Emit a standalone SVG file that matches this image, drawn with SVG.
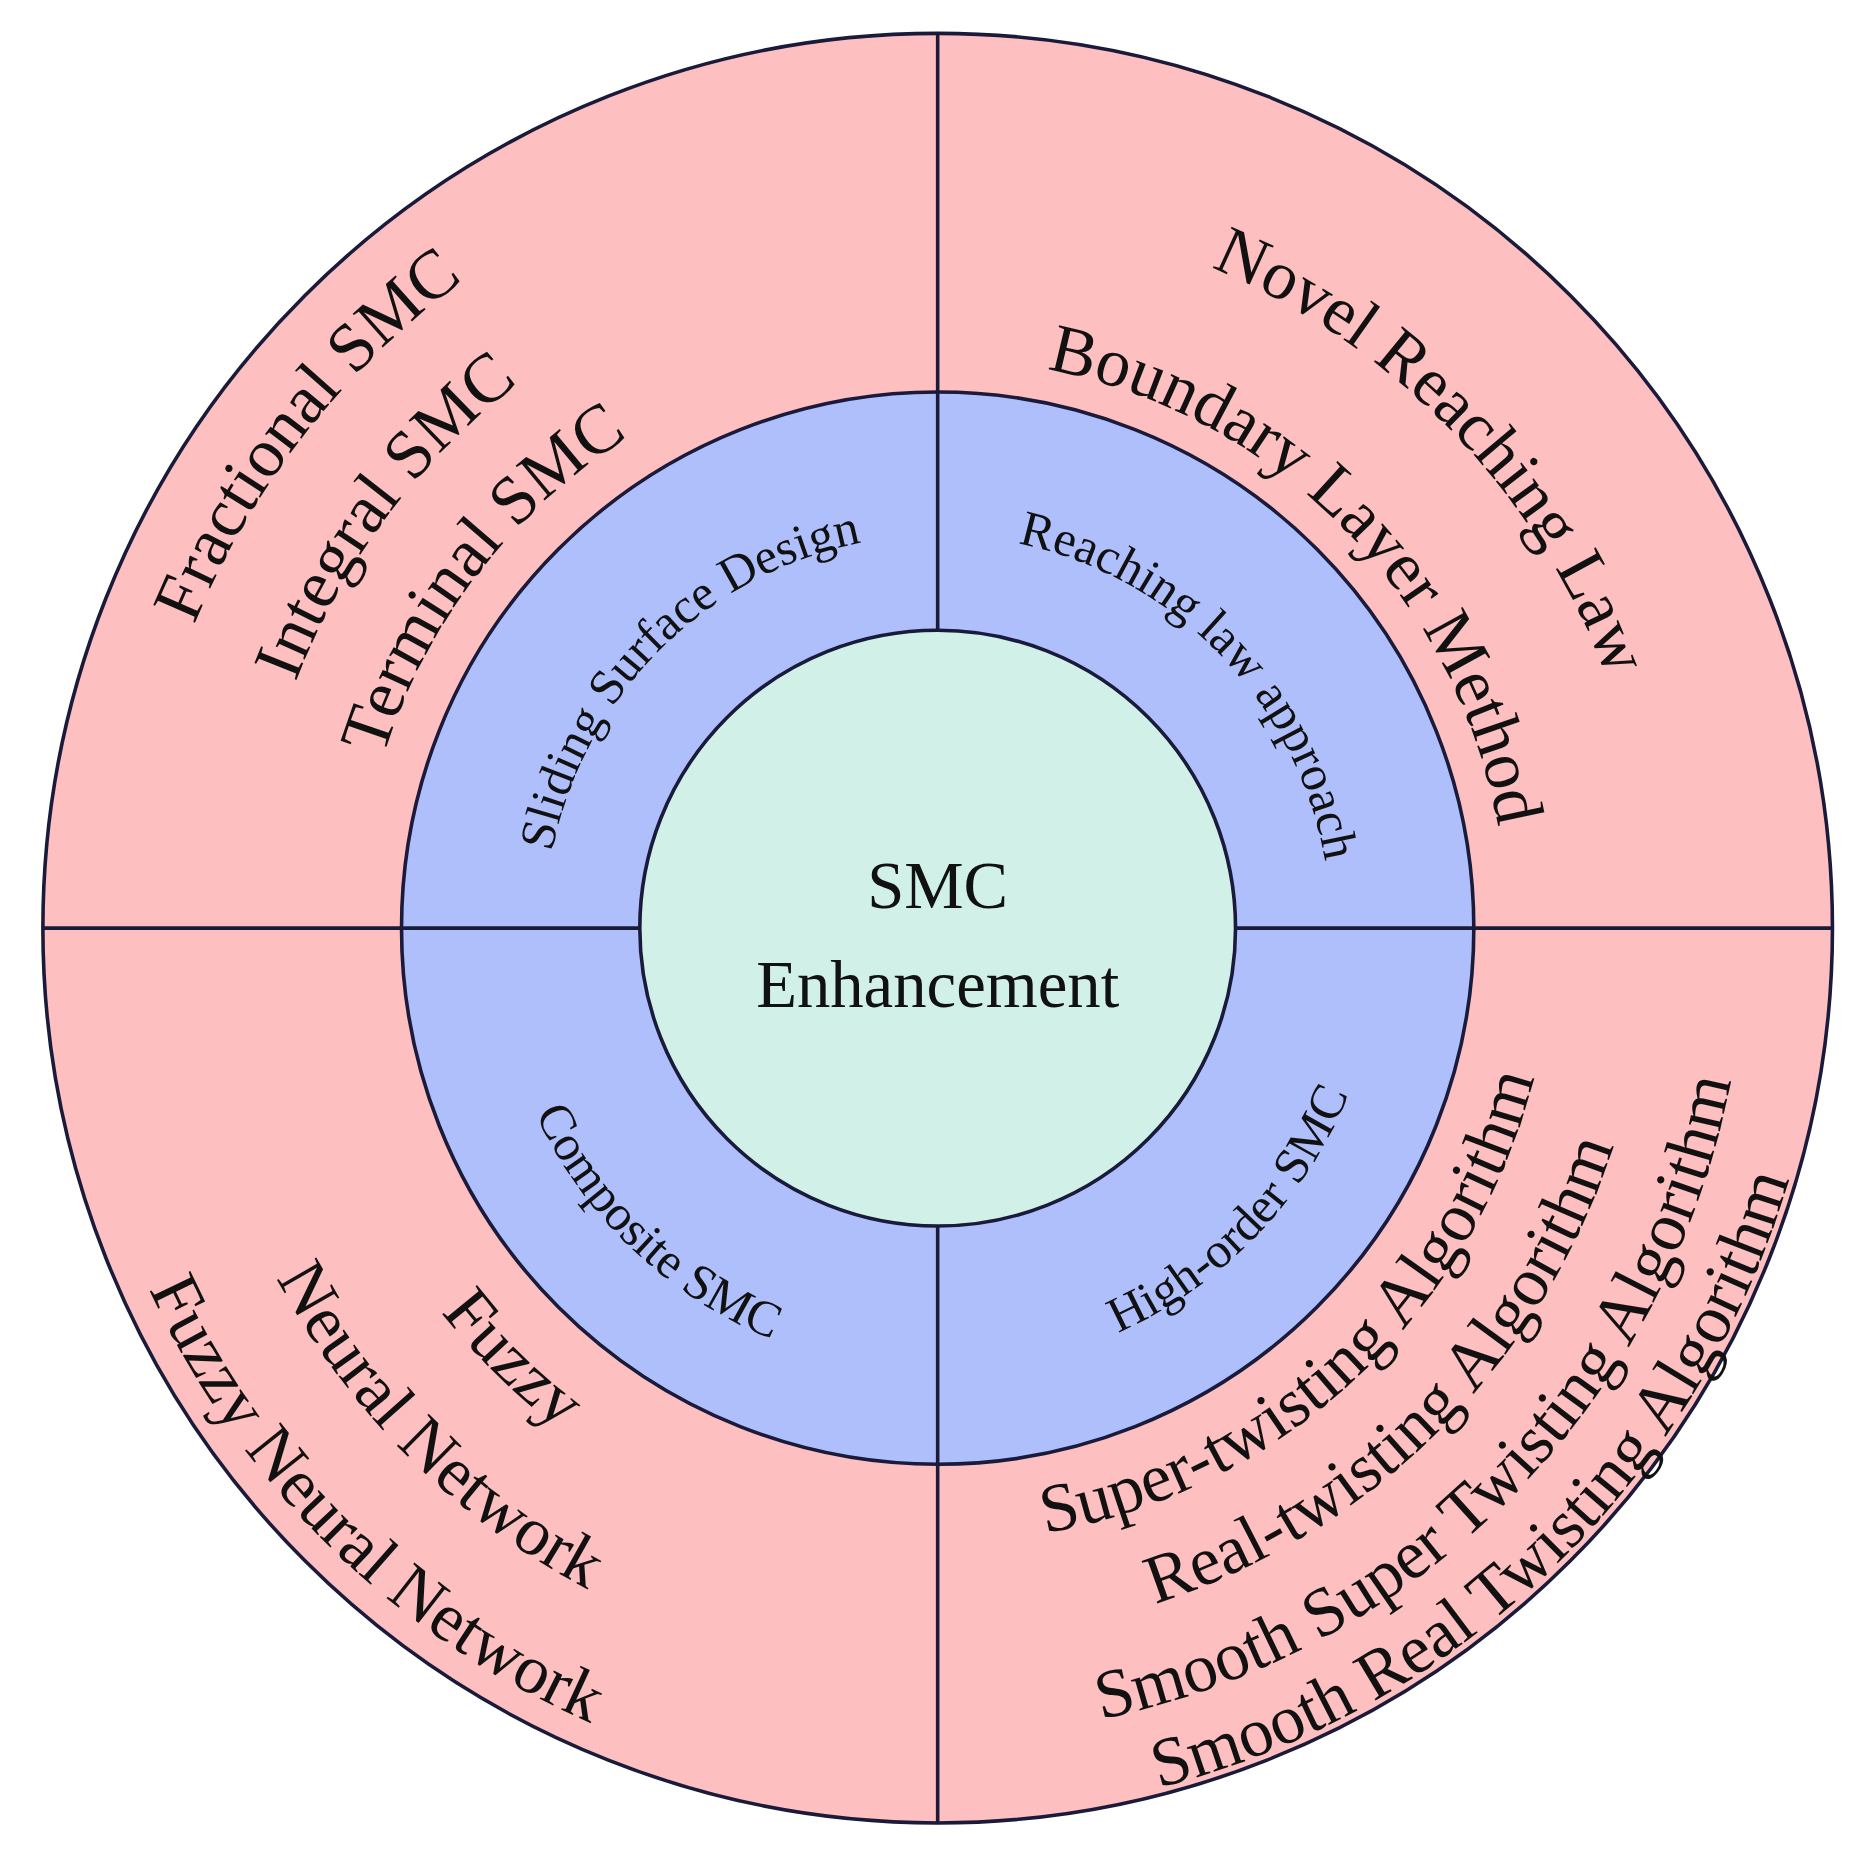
<svg xmlns="http://www.w3.org/2000/svg" xmlns:xlink="http://www.w3.org/1999/xlink" width="1867" height="1867" viewBox="0 0 1867 1867">
<style>
.ring{stroke:#1a1a3a;stroke-width:3}
.ln{stroke:#1a1a3a;stroke-width:3;fill:none}
text{font-family:"Liberation Serif","Times New Roman",serif;fill:#111}
.o{font-size:58px}
.m{font-size:42px}
.c{font-size:56px}
</style>
<defs>
<path id="cw674" d="M787,105 A674,674 0 0 1 787,1453"/>
<path id="cw577" d="M787,202 A577,577 0 0 1 787,1356"/>
<path id="cw487" d="M787,292 A487,487 0 0 1 787,1266"/>
<path id="cw330" d="M787,449 A330,330 0 0 1 787,1109"/>
<path id="cw600" d="M787,179 A600,600 0 0 1 787,1379"/>
<path id="cw478" d="M787,301 A478,478 0 0 1 787,1257"/>
<path id="ccw372" d="M787,1151 A372,372 0 0 0 787,407"/>
<path id="ccw527" d="M787,1306 A527,527 0 0 0 787,252"/>
<path id="ccw628" d="M787,1407 A628,628 0 0 0 787,151"/>
<path id="ccw728" d="M787,1507 A728,728 0 0 0 787,51"/>
<path id="ccw516" d="M787,1295 A516,516 0 0 0 787,263"/>
<path id="ccw596" d="M787,1375 A596,596 0 0 0 787,183"/>
<path id="ccw678" d="M787,1457 A678,678 0 0 0 787,101"/>
<path id="ccw745" d="M787,1524 A745,745 0 0 0 787,34"/>
</defs>
<rect width="1867" height="1867" fill="#fff"/>
<g transform="scale(1.19145)">
<g id="outer"><circle class="ring" cx="787" cy="779" r="751" fill="#fdbfbf"/></g>
<g id="middle"><circle class="ring" cx="787" cy="779" r="450" fill="#afbffc"/></g>
<g id="connectors">
<line class="ln" x1="787" y1="28" x2="787" y2="1530"/>
<line class="ln" x1="36" y1="779" x2="1538" y2="779"/>
</g>
<g id="center">
<circle class="ring" cx="787" cy="779" r="250" fill="#d0f0e8"/>
<text class="c" x="787" y="762" text-anchor="middle">SMC</text>
<text class="c" x="787" y="845" text-anchor="middle">Enhancement</text>
</g>
<g id="sliding"><text class="m" text-anchor="middle" transform="rotate(225 787 779)"><textPath xlink:href="#cw330" startOffset="50%">Sliding Surface Design</textPath></text></g>
<g id="reaching"><text class="m" text-anchor="middle" transform="rotate(-44 787 779)"><textPath xlink:href="#cw330" startOffset="50%">Reaching law approach</textPath></text></g>
<g id="composite"><text class="m" text-anchor="middle" transform="rotate(133.6 787 779)"><textPath xlink:href="#ccw372" startOffset="50%">Composite SMC</textPath></text></g>
<g id="highorder"><text class="m" text-anchor="middle" transform="rotate(44 787 779)"><textPath xlink:href="#ccw372" startOffset="50%">High-order SMC</textPath></text></g>
<g id="surface-items">
<text class="o" text-anchor="middle" transform="rotate(218 787 779)"><textPath xlink:href="#cw674" startOffset="50%">Fractional SMC</textPath></text>
<text class="o" text-anchor="middle" transform="rotate(216.7 787 779)"><textPath xlink:href="#cw577" startOffset="50%">Integral SMC</textPath></text>
<text class="o" text-anchor="middle" transform="rotate(217.5 787 779)"><textPath xlink:href="#cw487" startOffset="50%">Terminal SMC</textPath></text>
</g>
<g id="reaching-items">
<text class="o" text-anchor="middle" transform="rotate(-44 787 779)"><textPath xlink:href="#cw600" startOffset="50%">Novel Reaching Law</textPath></text>
<text class="o" text-anchor="middle" transform="rotate(-44.6 787 779)"><textPath xlink:href="#cw478" startOffset="50%">Boundary Layer Method</textPath></text>
</g>
<g id="composite-items">
<text class="o" text-anchor="middle" transform="rotate(134.6 787 779)"><textPath xlink:href="#ccw527" startOffset="50%">Fuzzy</textPath></text>
<text class="o" text-anchor="middle" transform="rotate(135 787 779)"><textPath xlink:href="#ccw628" startOffset="50%">Neural Network</textPath></text>
<text class="o" text-anchor="middle" transform="rotate(134.5 787 779)"><textPath xlink:href="#ccw728" startOffset="50%">Fuzzy Neural Network</textPath></text>
</g>
<g id="highorder-items">
<text class="o" text-anchor="middle" transform="rotate(47 787 779)"><textPath xlink:href="#ccw516" startOffset="50%">Super-twisting Algorithm</textPath></text>
<text class="o" text-anchor="middle" transform="rotate(45 787 779)"><textPath xlink:href="#ccw596" startOffset="50%">Real-twisting Algorithm</textPath></text>
<text class="o" text-anchor="middle" transform="rotate(44.6 787 779)"><textPath xlink:href="#ccw678" startOffset="50%">Smooth Super Twisting Algorithm</textPath></text>
<text class="o" text-anchor="middle" transform="rotate(46 787 779)"><textPath xlink:href="#ccw745" startOffset="50%">Smooth Real Twisting Algorithm</textPath></text>
</g>
</g>
</svg>
